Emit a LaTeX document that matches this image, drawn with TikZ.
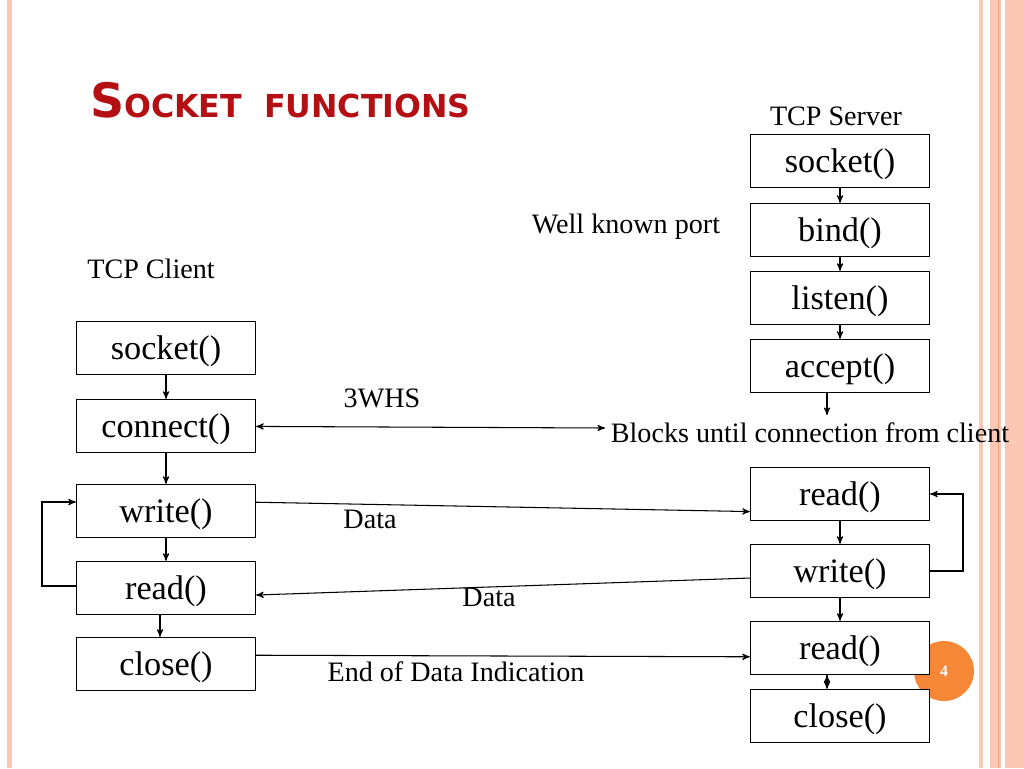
\documentclass[tikz,border=0pt]{standalone}
\usepackage{fontspec}
\setmainfont{Liberation Serif}
\newfontfamily\titlefont{DejaVu Sans}
\usetikzlibrary{arrows}
\usetikzlibrary{positioning}

\definecolor{stripe}{RGB}{252,200,180}
\definecolor{stripedark}{RGB}{240,160,120}
\definecolor{titlered}{RGB}{180,16,20}
\definecolor{badge}{RGB}{245,135,55}

\tikzset{
  fn/.style={draw,thick,fill=white,minimum width=3.58cm,minimum height=1.06cm,text depth=0pt,font=\fontsize{19.5}{22}\selectfont},
  lab/.style={font=\fontsize{16}{19}\selectfont},
  flow/.style={draw,semithick,->,>=stealth'}
}

\begin{document}
\begin{tikzpicture}[x=0.02cm,y=-0.02cm]

  \useasboundingbox (0,0) rectangle (1024,768);

  % slide frame
  \fill [stripe] (7,0) rectangle (12,768);
  \fill [stripe] (979,0) rectangle (983,768);
  \fill [stripe] (990,0) rectangle (1024,768);
  \fill [white] (1001,0) rectangle (1005,768);
  \draw [stripedark] (998,0) -- (998,768);

  \node [anchor=west,text=titlered,font=\titlefont\bfseries] (title) at (84,100)
    {{\fontsize{27}{30}\selectfont S}{\fontsize{18}{24}\selectfont OCKET\ \ FUNCTIONS}};

  \node [circle,fill=badge,minimum size=1.2cm,text=white,font=\bfseries\small] (page) at (944,671) {4};

  % client
  \node [fn] (Csocket) at (166,348) {socket()};
  \node [fn] (Cconnect) at (166,426) {connect()};
  \node [fn] (Cwrite) at (166,511) {write()};
  \node [fn] (Cread) at (166,588) {read()};
  \node [fn] (Cclose) at (166,664) {close()};

  % server
  \node [fn] (Ssocket) at (840,161) {socket()};
  \node [fn] (Sbind) at (840,230) {bind()};
  \node [fn] (Slisten) at (840,298) {listen()};
  \node [fn] (Saccept) at (840,366) {accept()};
  \node [fn] (Sread) at (840,494) {read()};
  \node [fn] (Swrite) at (840,571) {write()};
  \node [fn] (Sread_2) at (840,648) {read()};
  \node [fn] (Sclose) at (840,716) {close()};

  \node [lab] (tcpserver) at (836,116) {TCP Server};
  \node [lab] (wellknown) at (626,227) {Well known port};
  \node [lab] (tcpclient) at (151,269) {TCP Client};
  \node [lab] (whs) at (382,398) {3WHS};
  \node [lab] (blocks) at (810,433) {Blocks until connection from client};
  \node [lab] (data_1) at (370,519) {Data};
  \node [lab] (data_2) at (489,597) {Data};
  \node [lab] (eod) at (456,672) {End of Data Indication};

  \coordinate (Sblock) at (827,415);
  \coordinate (Cend) at (605,428);

  \path [flow]
    (Csocket) edge (Cconnect)
    (Cconnect) edge (Cwrite)
    (Cwrite) edge (Cread)
    (Cread.south -| 160,0) edge (Cclose.north -| 160,0)
    (Ssocket) edge (Sbind)
    (Sbind) edge (Slisten)
    (Slisten) edge (Saccept)
    (Saccept.south -| Sblock) edge (Sblock)
    (Sread) edge (Swrite)
    (Swrite) edge (Sread_2)
    (Sread_2.south -| 827,0) edge (Sclose.north -| 827,0);

  \draw [flow,<->] (Cconnect) -- (Cend);
  \draw [flow] ([yshift=5pt]Cwrite.east) -- ([yshift=-10pt]Sread.west);
  \draw [flow] ([yshift=-4pt]Swrite.west) -- ([yshift=-4pt]Cread.east);
  \draw [flow] ([yshift=5pt]Cclose.east) -- ([yshift=-5pt]Sread_2.west);

  \draw [flow] (Cread.west |- 0,586) -- (42,586) -- (42,502) -- (Cwrite.west |- 0,502);
  \draw [flow] (Swrite.east) -- (963,571) -- (963,494) -- (Sread.east);

\end{tikzpicture}
\end{document}
